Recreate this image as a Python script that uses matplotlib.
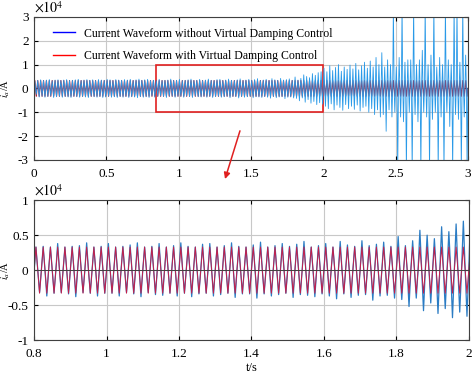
import numpy as np
import matplotlib.pyplot as plt
from matplotlib.patches import Rectangle

plt.rcParams['font.family'] = ['Liberation Serif', 'DejaVu Serif']
plt.rcParams['mathtext.fontset'] = 'stix'
plt.rcParams['axes.unicode_minus'] = False

# per-cycle (50 Hz) peak and trough of phase-a current, units of 1e4 A
cycle_s = 0.02
blue_max = [
    0.30, 0.34, 0.36, 0.33, 0.35, 0.37, 0.32, 0.35, 0.36, 0.33,
    0.35, 0.37, 0.33, 0.34, 0.36, 0.38, 0.33, 0.35, 0.37, 0.34,
    0.36, 0.33, 0.37, 0.35, 0.34, 0.38, 0.36, 0.33, 0.37, 0.35,
    0.34, 0.37, 0.35, 0.38, 0.33, 0.36, 0.39, 0.34, 0.36, 0.38,
    0.33, 0.34, 0.33, 0.38, 0.33, 0.34, 0.35, 0.39, 0.33, 0.34,
    0.38, 0.33, 0.34, 0.36, 0.39, 0.33, 0.34, 0.38, 0.33, 0.35,
    0.39, 0.34, 0.33, 0.37, 0.38, 0.33, 0.35, 0.39, 0.34, 0.33,
    0.36, 0.40, 0.33, 0.35, 0.38, 0.34, 0.37, 0.41, 0.33, 0.35,
    0.38, 0.33, 0.41, 0.36, 0.34, 0.42, 0.35, 0.37, 0.40, 0.34,
    0.48, 0.35, 0.42, 0.57, 0.50, 0.45, 0.62, 0.55, 0.66, 0.70,
    0.85, 0.70, 0.95, 0.75, 0.88, 1.00, 0.72, 0.90, 0.80, 0.98,
    0.82, 1.05, 0.78, 0.95, 1.10, 0.85, 1.15, 0.90, 1.30, 1.00,
    1.50, 0.90, 1.20, 1.00, 3.50, 0.90, 1.30, 3.50, 1.10, 1.20,
    1.20, 3.50, 1.00, 1.20, 1.60, 3.50, 1.00, 1.40, 3.50, 0.90,
    1.30, 1.00, 3.50, 1.20, 1.00, 3.50, 3.50, 1.10, 3.50, 1.40,
]
blue_min = [
    -0.25, -0.36, -0.33, -0.37, -0.34, -0.32, -0.38, -0.35, -0.33, -0.37,
    -0.34, -0.36, -0.38, -0.33, -0.35, -0.37, -0.34, -0.36, -0.38, -0.33,
    -0.35, -0.37, -0.34, -0.38, -0.36, -0.33, -0.37, -0.35, -0.38, -0.34,
    -0.37, -0.34, -0.38, -0.35, -0.36, -0.39, -0.34, -0.37, -0.35, -0.38,
    -0.32, -0.37, -0.33, -0.32, -0.34, -0.38, -0.32, -0.33, -0.37, -0.33,
    -0.33, -0.37, -0.32, -0.34, -0.38, -0.32, -0.35, -0.36, -0.33, -0.37,
    -0.33, -0.38, -0.34, -0.33, -0.37, -0.35, -0.33, -0.39, -0.34, -0.34,
    -0.40, -0.34, -0.37, -0.35, -0.33, -0.39, -0.35, -0.36, -0.38, -0.34,
    -0.37, -0.41, -0.34, -0.39, -0.36, -0.35, -0.43, -0.37, -0.36, -0.40,
    -0.42, -0.52, -0.40, -0.58, -0.47, -0.62, -0.55, -0.68, -0.60, -0.66,
    -0.75, -0.85, -0.65, -0.90, -0.70, -0.80, -0.92, -0.68, -0.85, -0.75,
    -0.88, -0.70, -0.95, -0.80, -0.75, -1.00, -0.85, -1.10, -0.90, -1.20,
    -1.10, -1.80, -0.90, -1.20, -1.00, -3.50, -1.20, -1.40, -3.50, -1.00,
    -3.50, -1.10, -1.40, -3.50, -1.00, -1.20, -3.50, -1.30, -1.00, -3.50,
    -1.20, -3.50, -1.00, -1.60, -3.50, -1.10, -1.30, -3.50, -1.20, -3.50,
]
red_max = 0.33
red_min = -0.33

labels = ['Current Waveform without Virtual Damping Control',
          'Current Waveform with Virtual Damping Control']


def waveform(maxs, mins):
    # zero -> peak -> zero -> trough for each cycle
    t, y = [], []
    for k, (hi, lo) in enumerate(zip(maxs, mins)):
        t0 = k * cycle_s
        t += [t0, t0 + cycle_s / 4, t0 + cycle_s / 2, t0 + 3 * cycle_s / 4]
        y += [0.0, hi, 0.0, lo]
    t.append(len(maxs) * cycle_s)
    y.append(0.0)
    return np.array(t), np.array(y)


tb, yb = waveform(blue_max, blue_min)
tr, yr = waveform([red_max] * len(blue_max), [red_min] * len(blue_min))


def style(ax):
    ax.grid(True, color='#c8c8c8', lw=0.8)
    ax.set_axisbelow(True)
    ax.tick_params(direction='in', top=True, right=True, labelsize=9.5, length=3)
    ax.tick_params(axis='x', pad=6)
    ax.tick_params(axis='y', pad=4)
    for s in ax.spines.values():
        s.set_color('#404040')
        s.set_linewidth(0.8)


fig = plt.figure(figsize=(4.74, 3.77), dpi=100)
ax1 = fig.add_axes([0.072, 0.576, 0.915, 0.379])
ax2 = fig.add_axes([0.072, 0.098, 0.917, 0.371])

# top: full 0-3 s
ax1.plot(tr, yr, color='#b0102a', lw=0.8)
ax1.plot(tb, yb, color='#2a9ae8', lw=0.6)
ax1.set_xlim(0, 3)
ax1.set_ylim(-3, 3)
ax1.set_xticks(np.arange(0, 3.01, 0.5))
ax1.set_xticklabels(['0', '0.5', '1', '1.5', '2', '2.5', '3'])
ax1.set_yticks(np.arange(-3, 4, 1))
style(ax1)
ax1.set_ylabel('$i_a$/A', fontsize=7.5)
ax1.yaxis.set_label_coords(-0.05, 0.5)
ax1.text(0.0, 1.01, r'$\times10^4$', transform=ax1.transAxes, fontsize=10, va='bottom')
ax1.add_patch(Rectangle((0.84, -1), 1.16, 2, fill=False, ec='#e02020', lw=1.2))

h1, = ax1.plot([], [], color='blue', lw=1)
h2, = ax1.plot([], [], color='red', lw=1)
ax1.legend([h1, h2], labels, loc='upper left', bbox_to_anchor=(0.02, 1.0),
           frameon=False, fontsize=8.5, handlelength=1.8, labelspacing=0.9)

# bottom: zoom 0.8-2 s
ax2.plot(tb, yb, color='#2b7cc4', lw=0.9)
ax2.plot(tr, yr, color='#c41e4a', lw=0.7)
ax2.axhline(0, color='#404040', lw=0.7)
ax2.set_xlim(0.8, 2)
ax2.set_ylim(-1, 1)
ax2.set_xticks(np.arange(0.8, 2.01, 0.2))
ax2.set_xticklabels(['0.8', '1', '1.2', '1.4', '1.6', '1.8', '2'])
ax2.set_yticks([-1, -0.5, 0, 0.5, 1])
ax2.set_yticklabels(['-1', '-0.5', '0', '0.5', '1'])
style(ax2)
ax2.set_ylabel('$i_a$/A', fontsize=7.5)
ax2.yaxis.set_label_coords(-0.052, 0.5)
ax2.set_xlabel('t/s', fontsize=9, labelpad=1)
ax2.text(0.0, 1.01, r'$\times10^4$', transform=ax2.transAxes, fontsize=10, va='bottom')

ax1.annotate('', xy=(0.473, 0.518), xytext=(0.508, 0.66),
             xycoords='figure fraction', textcoords='figure fraction',
             arrowprops=dict(arrowstyle='-|>', color='#e02020', lw=1.1,
                             mutation_scale=9))

fig.savefig('out.png', dpi=100)
